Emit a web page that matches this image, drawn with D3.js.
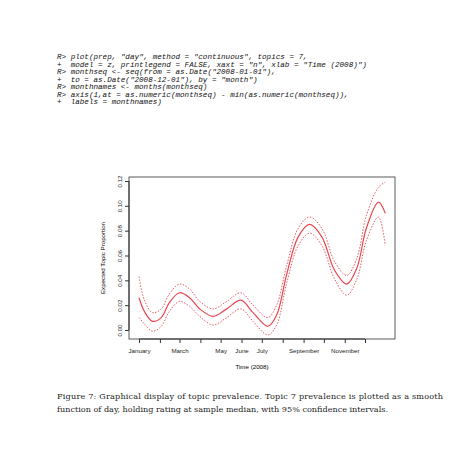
<!DOCTYPE html>
<html><head><meta charset="utf-8">
<script src="https://cdn.jsdelivr.net/npm/d3@7"></script>
<style>body{margin:0;background:#fff}</style></head>
<body><svg id="c" width="474" height="460"></svg>
<script>
const codeLines = [
 'R> plot(prep, "day", method = "continuous", topics = 7,',
 '+  model = z, printlegend = FALSE, xaxt = "n", xlab = "Time (2008)")',
 'R> monthseq <- seq(from = as.Date("2008-01-01"),',
 '+  to = as.Date("2008-12-01"), by = "month")',
 'R> monthnames <- months(monthseq)',
 'R> axis(1,at = as.numeric(monthseq) - min(as.numeric(monthseq)),',
 '+  labels = monthnames)'];
const captionLines = [
 'Figure 7: Graphical display of topic prevalence.  Topic 7 prevalence is plotted as a smooth',
 'function of day, holding rating at sample median, with 95% confidence intervals.'];
const days  = [0, 8, 20, 33, 45, 60, 75, 90, 110, 130, 151, 169, 191, 204, 219, 236, 253, 271, 290, 308, 323, 337, 355, 365];
const mean  = [0.026,0.015,0.007,0.010,0.022,0.030,0.026,0.017,0.011,0.017,0.024,0.014,0.003,0.012,0.045,0.075,0.085,0.075,0.048,0.037,0.050,0.082,0.103,0.094];
const upper = [0.043,0.024,0.014,0.017,0.029,0.037,0.033,0.023,0.017,0.023,0.030,0.020,0.010,0.020,0.052,0.082,0.091,0.082,0.055,0.044,0.058,0.092,0.115,0.119];
const lower = [0.010,0.005,-0.001,0.003,0.015,0.023,0.019,0.011,0.004,0.010,0.017,0.007,-0.004,0.004,0.038,0.068,0.078,0.068,0.041,0.028,0.041,0.072,0.091,0.068];
const monthDays = [0,31,60,91,121,152,182,213,244,274,305,335];
const monthNames = ["January","February","March","April","May","June","July","August","September","October","November","December"];
const shownMonths = ["January","March","May","June","July","September","November"];
const yTicks = [0,0.02,0.04,0.06,0.08,0.10,0.12];

const svg = d3.select("#c");
svg.append("g").selectAll("text").data(codeLines).join("text")
  .attr("x",57).attr("y",(d,i)=>59+i*7.5)
  .attr("font-family","Liberation Mono").attr("font-style","italic").attr("font-size",7.6).attr("fill","#111")
  .attr("xml:space","preserve").style("white-space","pre").text(d=>d);
svg.append("g").selectAll("text").data(captionLines).join("text")
  .attr("x",57).attr("y",(d,i)=>399+i*13)
  .attr("font-family","DejaVu Serif").attr("font-size",8.1).attr("fill","#222")
  .attr("textLength",(d,i)=>i==0?386:null).text(d=>d);

const x = d3.scaleLinear().domain([0,335]).range([139,365]);
const y = d3.scaleLinear().domain([0,0.12]).range([330,181]);
svg.append("rect").attr("x",129).attr("y",177).attr("width",266).attr("height",162)
  .attr("fill","none").attr("stroke","#333").attr("stroke-width",0.8);
const line = arr => d3.line().x((d,i)=>x(days[i])).y(d=>y(d)).curve(d3.curveCatmullRom)(arr);
svg.append("path").attr("d",line(mean)).attr("fill","none").attr("stroke","#e8474f").attr("stroke-width",1.2);
[upper,lower].forEach(a=>svg.append("path").attr("d",line(a)).attr("fill","none")
  .attr("stroke","#e8474f").attr("stroke-width",0.9).attr("stroke-dasharray","1.5,1.5"));

const xa = svg.append("g").attr("transform","translate(0,339)")
  .call(d3.axisBottom(x).tickValues(monthDays).tickSize(4).tickFormat((d,i)=>shownMonths.includes(monthNames[i])?monthNames[i]:""));
xa.select(".domain").attr("d",`M${x(0)},0H${x(335)}`);
const ya = svg.append("g").attr("transform","translate(129,0)")
  .call(d3.axisLeft(y).tickValues(yTicks).tickSize(4).tickFormat(d3.format(".2f")));
ya.select(".domain").attr("d",`M0,${y(0)}V${y(0.12)}`);
ya.selectAll("text").attr("x",-7).attr("y",0).attr("dy",0)
  .attr("transform","rotate(-90,-7,0)").attr("text-anchor","middle");
[xa,ya].forEach(g=>{g.selectAll("text").attr("font-family","Liberation Sans").attr("font-size",6.2).attr("fill","#222");
  g.selectAll("line,path").attr("stroke","#333");});
xa.selectAll("text").attr("dy","1.2em");
svg.append("text").attr("x",252).attr("y",369).attr("text-anchor","middle")
  .attr("font-family","Liberation Sans").attr("font-size",6.2).text("Time (2008)");
svg.append("text").attr("transform","translate(105,258) rotate(-90)").attr("text-anchor","middle")
  .attr("font-family","Liberation Sans").attr("font-size",6.2).text("Expected Topic Proportion");
</script></body></html>
